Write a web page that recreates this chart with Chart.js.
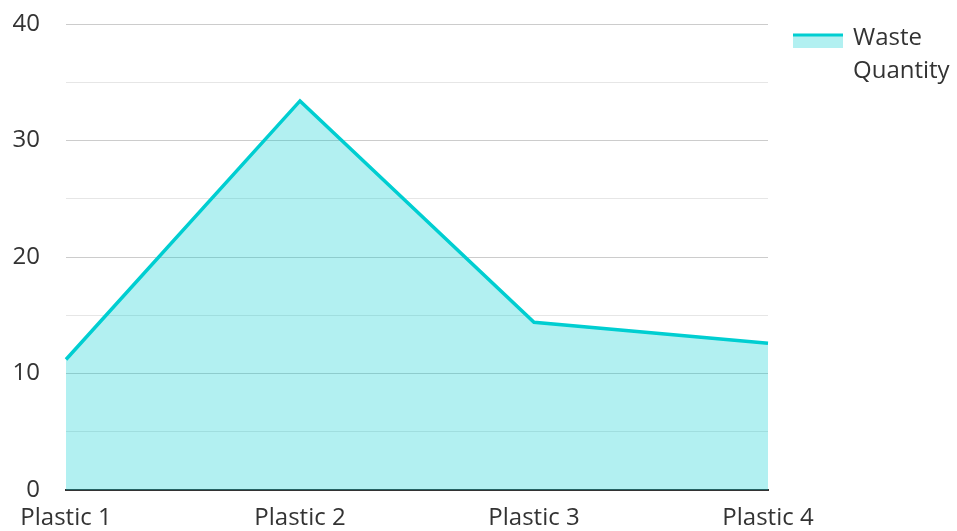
<!DOCTYPE html>
<html>
<head>
<meta charset="utf-8">
<script src="https://cdn.jsdelivr.net/npm/chart.js@4"></script>
<style>
  html, body { margin: 0; padding: 0; background: #fff; }
  #wrap { width: 957px; height: 531px; }
</style>
</head>
<body>
<div id="wrap"><canvas id="my-chart"></canvas></div>
<script>
'use strict';

// ******* DATA *********
let categories = ['Plastic 1', 'Plastic 2', 'Plastic 3', 'Plastic 4'];
let wasteValues = [11.2, 33.4, 14.4, 12.6];
let seriesName = ['Waste', 'Quantity'];
let yTicks = [0, 10, 20, 30, 40];

let lineColor = '#00ced1';
let fillColor = 'rgba(0, 206, 209, 0.3)';
let textColor = '#333';
let fontFamily = '"Open Sans", "Noto Sans", sans-serif';

// ***** custom legend drawn at right side *****
let sideLegend = {
  id: 'sideLegend',
  afterDraw(chart) {
    let c = chart.ctx;
    let x = chart.chartArea.right + 25;
    c.save();
    c.fillStyle = fillColor;
    c.fillRect(x, 35, 50, 13);
    c.fillStyle = lineColor;
    c.fillRect(x, 33.5, 50, 3);
    c.fillStyle = textColor;
    c.font = '24px ' + fontFamily;
    c.textBaseline = 'alphabetic';
    c.textAlign = 'left';
    for (let i = 0; i < seriesName.length; i++) {
      c.fillText(seriesName[i], x + 60, 45 + i * 33);
    }
    c.restore();
  }
};

let ctx = document.getElementById('my-chart');

new Chart(ctx, { // eslint-disable-line
  type: 'line',
  data: {
    labels: categories,
    datasets: [{
      label: seriesName.join(' '),
      data: wasteValues,
      borderColor: lineColor,
      backgroundColor: fillColor,
      borderWidth: 3.5,
      pointRadius: 0,
      tension: 0,
      fill: 'origin'
    }]
  },
  options: {
    responsive: true,
    maintainAspectRatio: false,
    animation: false,
    layout: { padding: { top: 24, right: 189, left: 0, bottom: 0 } },
    plugins: {
      legend: { display: false },
      tooltip: { enabled: false }
    },
    scales: {
      x: {
        offset: false,
        grid: { display: false, drawTicks: false },
        border: { display: true, color: '#333', width: 2 },
        ticks: {
          color: textColor,
          font: { family: fontFamily, size: 24 },
          padding: 14,
          maxRotation: 0,
          autoSkip: false
        },
        afterFit(axis) {
          axis.height = 41;
          axis.paddingLeft = 0;
          axis.paddingRight = 0;
        }
      },
      y: {
        min: 0,
        max: 40,
        grid: {
          drawTicks: false,
          color(c) { return c.tick.value % 10 === 0 ? '#cccccc' : '#e6e6e6'; }
        },
        border: { display: false },
        ticks: {
          stepSize: 5,
          color: textColor,
          font: { family: fontFamily, size: 24 },
          padding: 26,
          callback(v) { return yTicks.includes(v) ? v : ''; }
        },
        afterFit(axis) {
          axis.width = 66;
          axis.paddingTop = 0;
          axis.paddingBottom = 0;
        }
      }
    }
  },
  plugins: [sideLegend]
});
</script>
</body>
</html>
